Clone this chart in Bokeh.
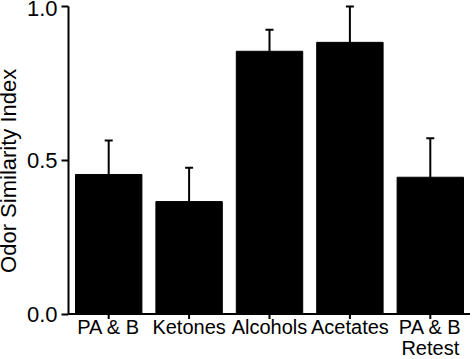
from bokeh.plotting import figure
from bokeh.models import FactorRange, Range1d, ColumnDataSource, FixedTicker, Span
from bokeh.core.properties import value
from bokeh.embed import file_html
from bokeh.resources import INLINE

categories = ["PA & B", "Ketones", "Alcohols", "Acetates", "PA & B\nRetest"]
means = [0.453, 0.365, 0.853, 0.882, 0.444]
sems = [0.110, 0.110, 0.070, 0.116, 0.127]
y_ticks = [0.0, 0.5, 1.0]
y_label = "Odor Similarity Index"

FONT = "Liberation Sans"

tops = [m + s for m, s in zip(means, sems)]
src = ColumnDataSource(dict(cat=categories, mean=means, top=tops, zero=[0.0] * len(categories)))

# frame spans the whole visible height; y=0 sits 45.5px above the bottom edge
H = 359
px_per_unit = 308.0
y_top = 1.0 + 5.5 / px_per_unit
y_bot = -(H - 313.5) / px_per_unit

p = figure(frame_width=402, frame_height=H, output_backend="svg", toolbar_location=None,
           x_range=FactorRange(*categories, range_padding=0),
           y_range=Range1d(y_bot, y_top), x_axis_location=None,
           min_border_left=70, min_border_right=0, min_border_top=0, min_border_bottom=0)
p.margin = (0, 0, 0, -8)
p.outline_line_color = None
p.xgrid.visible = False
p.ygrid.visible = False

p.vbar(x="cat", top="mean", bottom=0, width=0.826, source=src,
       fill_color="black", line_color="black")
p.segment(x0="cat", y0="mean", x1="cat", y1="top", source=src,
          line_color="black", line_width=2)
p.rect(x="cat", y="top", width=8, height=2, width_units="screen", height_units="screen",
       source=src, fill_color="black", line_color=None)

# x baseline and ticks
p.add_layout(Span(location=0, dimension="width", line_color="black", line_width=2))
p.rect(x="cat", y="zero", width=2, height=10, width_units="screen", height_units="screen",
       source=src, fill_color="black", line_color=None)

# category labels
p.text(x="cat", y="zero", text="cat", source=src, y_offset=2,
       text_align="center", text_baseline="top", text_font=value(FONT),
       text_font_size="20px", text_line_height=0.95, text_color="black")

ya = p.yaxis[0]
ya.bounds = (0, 1)
ya.ticker = FixedTicker(ticks=y_ticks)
ya.axis_line_width = 2
ya.axis_line_color = "black"
ya.major_tick_line_width = 2
ya.major_tick_line_color = "black"
ya.minor_tick_line_color = None
ya.major_tick_in = 0
ya.major_tick_out = 7
ya.major_label_text_font = FONT
ya.major_label_text_color = "black"
ya.major_label_text_font_size = "22px"
ya.major_label_standoff = 4
ya.major_label_overrides = {0.0: "0.0", 0.5: "0.5", 1.0: "1.0"}
ya.axis_label = "\u00a0\u00a0\u00a0" + y_label
ya.axis_label_text_font = FONT
ya.axis_label_text_font_style = "normal"
ya.axis_label_text_font_size = "22px"
ya.axis_label_text_color = "black"
ya.axis_label_standoff = 3

open("out.html", "w").write(file_html(p, INLINE))
